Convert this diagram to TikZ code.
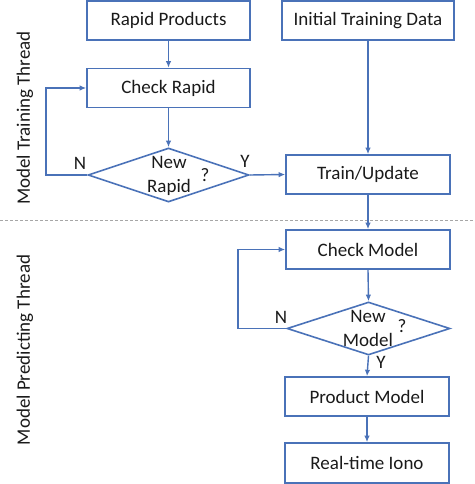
\documentclass[tikz,border=0pt]{standalone}
\usepackage{fontspec}
\setmainfont{Carlito}
\usetikzlibrary{shapes.geometric,arrows.meta}
\definecolor{lineblue}{HTML}{4A72B8}
\definecolor{txtc}{HTML}{1A1A1A}
\begin{document}
\begin{tikzpicture}[x=1pt,y=-1pt,
  font=\fontsize{19}{22}\selectfont,text=txtc,
  box/.style={draw=lineblue,line width=1.6pt,minimum height=39pt,inner sep=0pt},
  dia/.style={draw=lineblue,line width=1.6pt,diamond,inner sep=0pt},
  arr/.style={draw=lineblue,line width=1.4pt,-{Latex[length=6.5pt,width=5.5pt]}},
  txt/.style={inner sep=0pt}]
\useasboundingbox (0,0) rectangle (474,484);
\node[box,minimum width=163pt,minimum height=39pt] (rp) at (168.5,20.5) {Rapid Products};
\node[box,minimum width=172pt,minimum height=39pt] (itd) at (368,20.5) {Initial Training Data};
\node[box,minimum width=163pt] (cr) at (168.5,88) {Check Rapid};
\node[dia,minimum width=161pt,minimum height=54pt] (d1) at (168.5,175) {};
\node[box,minimum width=164pt] (tu) at (368,174.5) {Train/Update};
\node[box,minimum width=164pt] (cm) at (368,249.5) {Check Model};
\node[dia,minimum width=163pt,minimum height=53pt] (d2) at (368.5,328.5) {};
\node[box,minimum width=164pt] (pm) at (367,396.5) {Product Model};
\node[box,minimum width=164pt,minimum height=40pt] (ri) at (367,463) {Real-time Iono};
% diamond texts
\node[txt] (d1a) at (169,162) {New};
\node[txt] (d1b) at (169,187) {Rapid};
\node[txt] (d1q) at (205,175) {?};
\node[txt] (d2a) at (368,316) {New};
\node[txt] (d2b) at (368,340) {Model};
\node[txt] (d2q) at (402,326) {?};
% N / Y labels
\node[txt] (n1) at (80,163) {N};
\node[txt] (y1) at (245,161) {Y};
\node[txt] (n2) at (281,317) {N};
\node[txt] (y2) at (381,362) {Y};
% thread labels
\node[txt,rotate=90] (t1) at (25,118) {Model Training Thread};
\node[txt,rotate=90] (t2) at (25,350) {Model Predicting Thread};
% dashed separator
\coordinate (sl) at (0,220);
\coordinate (sr) at (474,220);
\draw[gray!70,line width=0.8pt,dash pattern=on 3pt off 2pt] (sl) -- (sr);
% connectors
\draw[arr] (rp.south) -- (cr.north);
\draw[arr] (cr.south) -- (d1.north);
\draw[arr] (d1.east) -- (tu.west);
\draw[arr] (itd.south) -- (tu.north);
\coordinate (l1) at (46,175);
\coordinate (l1t) at (46,88);
\draw[arr] (d1.west) -- (l1) -- (l1t) -- (cr.west);
\draw[arr] (tu.south) -- (cm.north);
\draw[arr] (cm.south) -- (d2.north);
\coordinate (l2) at (238,328.5);
\coordinate (l2t) at (238,249.5);
\draw[arr] (d2.west) -- (l2) -- (l2t) -- (cm.west);
\draw[arr] (d2.south) -- (pm.north);
\draw[arr] (pm.south) -- (ri.north);
\end{tikzpicture}
\end{document}
